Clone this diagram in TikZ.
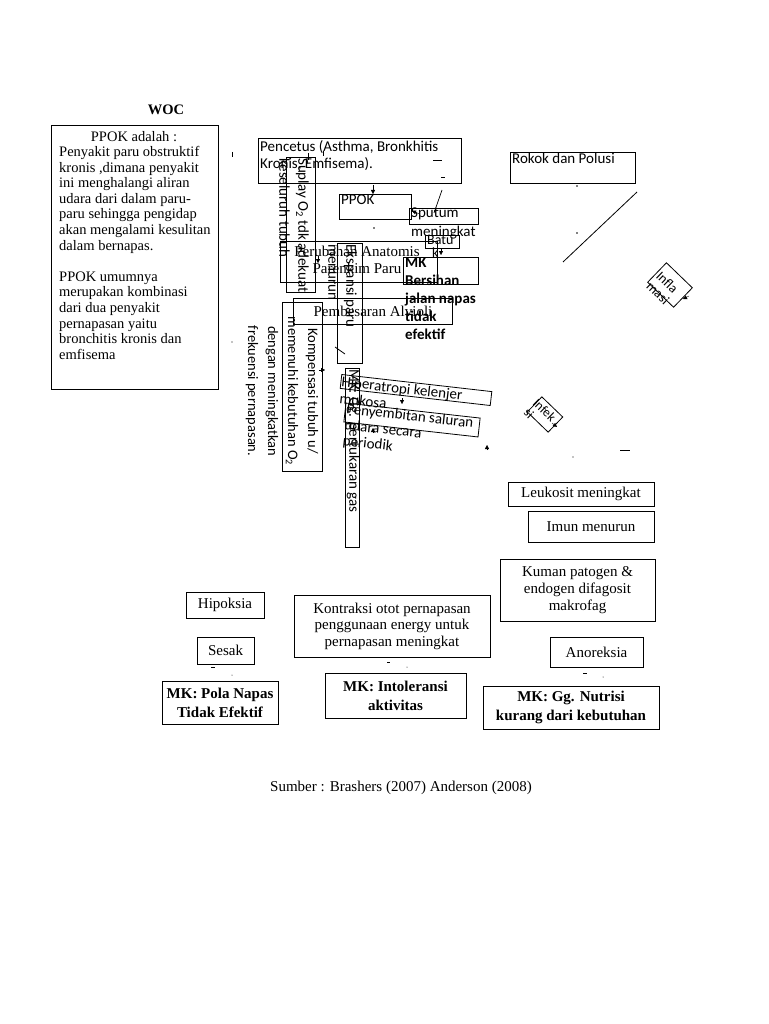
\documentclass[tikz,border=0pt]{standalone}
\usepackage{fontspec}
\setmainfont{Liberation Serif}
\newfontfamily\calib{Carlito}
\usetikzlibrary{arrows.meta}
\begin{document}
\begin{tikzpicture}[x=1pt,y=-1pt,
  bx/.style={draw,line width=0.8pt,inner sep=0pt},
  sr/.style={inner sep=0pt,font=\fontsize{14.5}{15.6}\selectfont},
  sr15/.style={inner sep=0pt,font=\fontsize{15}{16.5}\selectfont},
  srb/.style={inner sep=0pt,align=center,font=\bfseries\fontsize{15}{19}\selectfont},
  sn/.style={inner sep=0pt,font=\calib\fontsize{15}{17}\selectfont},
  snb/.style={inner sep=0pt,font=\calib\bfseries\fontsize{15}{18}\selectfont},
  arr/.style={-{Triangle[length=4pt,width=4pt]},line width=0.4pt},
  tick/.style={line width=0.8pt},
]
\useasboundingbox (0,0) rectangle (768,1024);
\fill[white] (0,0) rectangle (768,1024);

% title and definition
\node[inner sep=0pt,font=\bfseries\fontsize{14.5}{15}\selectfont] (woc) at (166,110) {WOC};
\node[bx,minimum width=167,minimum height=264,anchor=north west] (def) at (51,125) {};
\node[sr] (defh) at (134,137) {PPOK adalah :};
\node[sr,anchor=north west,align=left] (deft) at (59,146) {Penyakit paru obstruktif\\kronis ,dimana penyakit\\ini menghalangi aliran\\udara dari dalam paru-\\paru sehingga pengidap\\akan mengalami kesulitan\\dalam bernapas.\\[15.6pt]PPOK umumnya\\merupakan kombinasi\\dari dua penyakit\\pernapasan yaitu\\bronchitis kronis dan\\emfisema};

% Pencetus
\node[bx,minimum width=203,minimum height=45,anchor=north west] (pencetus) at (258,138) {};
\node[sn,anchor=north west,align=left] (pencetust) at (260,140) {Pencetus (Asthma, Bronkhitis\\Kronis, Emfisema).};
\coordinate (m1a) at (433,160); \coordinate (m1b) at (442,160);
\draw[tick] (m1a) -- (m1b);
\coordinate (m2a) at (441,177); \coordinate (m2b) at (445,177);
\draw[tick] (m2a) -- (m2b);
\coordinate (m3a) at (308,153); \coordinate (m3b) at (308,160);
\draw[tick] (m3a) -- (m3b);
\coordinate (m4a) at (323,151); \coordinate (m4b) at (323,156);
\draw[tick] (m4a) -- (m4b);

% PPOK
\node[bx,minimum width=72,minimum height=25,anchor=north west] (ppok) at (339,194) {};
\node[sn,anchor=north west] (ppokt) at (341,195) {PPOK};
\coordinate (a1s) at (373,185);
\draw[arr] (a1s) -- (ppok.north -| a1s);
\fill (374,228) circle (0.9);

% Sputum, Batuk, MK bersihan
\node[bx,minimum width=69,minimum height=16,anchor=north west] (sputum) at (409,208) {};
\node[sn,anchor=north west,align=left,font=\calib\fontsize{15}{19}\selectfont] (sputumt) at (411,208) {Sputum\\meningkat};
\coordinate (sp1) at (442,190); \coordinate (sp2) at (434,213);
\draw[line width=0.7pt] (sp1) -- (sp2);
\coordinate (a2s) at (420,214); \coordinate (a2e) at (412,211);
\draw[arr] (a2s) -- (a2e);
\node[bx,minimum width=34,minimum height=13,anchor=north west] (batuk) at (425,235) {};
\node[sn,anchor=north west,align=left,font=\calib\fontsize{14}{13}\selectfont] (batukt) at (427,235) {Batu\\\hspace*{5pt}k};
\coordinate (a3s) at (441,249); \coordinate (a3e) at (441,255);
\draw[arr] (a3s) -- (a3e);

% Perubahan anatomis
\node[bx,minimum width=157,minimum height=41,anchor=north west] (perub) at (280,241) {};
\node[sr15,align=center] (perubt) at (357,260) {Perubahan Anatomis\\Parenkim Paru};

\node[bx,minimum width=75,minimum height=27,anchor=north west] (mkb) at (403,257) {};
\node[snb,anchor=north west,align=left] (mkbt) at (405,258) {MK\\Bersihan\\jalan napas\\tidak\\efektif};

% Suplay O2 box
\node[bx,minimum width=29,minimum height=135,anchor=north west] (suplay) at (286,157) {};
\node[sn,rotate=-90,anchor=north west,align=left,font=\calib\fontsize{15}{19}\selectfont] (suplayt) at (309,158) {Suplay O\textsubscript{2} tdk adekuat\\keseluruh tubuh};
\coordinate (a4s) at (318,256); \coordinate (a4e) at (318,263);
\draw[arr] (a4s) -- (a4e);

% Ekspansi paru
\node[bx,minimum width=25,minimum height=120,anchor=north west] (eksp) at (337,243) {};
\node[sn,rotate=-90,anchor=north west,align=left,font=\calib\fontsize{15}{18}\selectfont] (ekspt) at (357,244) {Ekspansi paru\\menurun};
\coordinate (s1a) at (335,347); \coordinate (s1b) at (345,354);
\draw[tick] (s1a) -- (s1b);

% Pembesaran alvioli
\node[bx,minimum width=159,minimum height=26,anchor=north west] (pemb) at (293,298) {};
\node[sr15] (pembt) at (373,311) {Pembesaran Alvioli};

% Kompensasi
\node[bx,minimum width=40,minimum height=169,anchor=north west] (komp) at (282,302) {};
\node[sn,rotate=-90,align=center,font=\calib\fontsize{14.5}{20}\selectfont] (kompt) at (282,391) {Kompensasi tubuh u/\\memenuhi kebutuhan O\textsubscript{2}\\dengan meningkatkan\\frekuensi pernapasan.};
\coordinate (a5s) at (319,370); \coordinate (a5e) at (325,370);
\draw[arr] (a5s) -- (a5e);

% MK pertukaran gas
\node[bx,minimum width=14,minimum height=179,anchor=north west] (mkg) at (345,368) {};
\node[sn,rotate=-90,anchor=north west] (mkgt) at (360,369) {MK: Gg. pertukaran gas};

% Hiperatropi
\node[bx,rotate=-6.5,minimum width=151,minimum height=14] (hiper) at (416,390) {};
\node[sn,rotate=-6.5,anchor=north west,align=left,font=\calib\fontsize{15}{17}\selectfont] (hipert) at (342,376) {Hiperatropi kelenjer\\mukosa};
\coordinate (a6s) at (402,398); \coordinate (a6e) at (402,404);
\draw[arr] (a6s) -- (a6e);

% Penyembitan
\node[bx,rotate=-6.4,minimum width=135,minimum height=19] (peny) at (412,420) {};
\node[sn,rotate=-6.4,anchor=north west,align=left,font=\calib\fontsize{15}{16}\selectfont] (penyt) at (347,403) {Penyembitan saluran\\udara secara\\periodik};
\coordinate (a7s) at (373,433); \coordinate (a7e) at (373,428);
\draw[arr] (a7s) -- (a7e);
\coordinate (a8s) at (487,450); \coordinate (a8e) at (487,445);
\draw[arr] (a8s) -- (a8e);

% Rokok dan polusi
\node[bx,minimum width=125,minimum height=31,anchor=north west] (rokok) at (510,152) {};
\node[sn,anchor=north west] (rokokt) at (512,153) {Rokok dan Polusi};
\fill (577,186) circle (0.9);
\fill (577,233) circle (0.9);
\coordinate (d1) at (563,262); \coordinate (d2) at (637,192);
\draw[line width=0.8pt] (d1) -- (d2);

% Inflamasi
\node[bx,rotate=-44,minimum width=36,minimum height=27] (infla) at (670,285) {};
\node[sn,rotate=-44,align=left,font=\calib\fontsize{13.5}{14}\selectfont] (inflat) at (663,288) {Infla\\masi};
\coordinate (a9s) at (689,296); \coordinate (a9e) at (683,299);
\draw[arr] (a9s) -- (a9e);

% Infeksi
\node[bx,rotate=-44,minimum width=29,minimum height=21] (infeksi) at (545,414.5) {};
\node[sn,rotate=-44,align=left,font=\calib\fontsize{13}{13}\selectfont] (infeksit) at (540,415) {Infek\\si};
\coordinate (a10s) at (552,423); \coordinate (a10e) at (557,427);
\draw[arr] (a10s) -- (a10e);
\coordinate (m5a) at (620,450); \coordinate (m5b) at (630,450);
\draw[tick] (m5a) -- (m5b);
\fill (573,457) circle (0.6);

% Right column
\node[bx,minimum width=146,minimum height=24,sr15] (leuko) at (581,494) {Leukosit meningkat};
\node[bx,minimum width=126,minimum height=31,sr15] (imun) at (591,526.5) {Imun menurun};
\node[bx,minimum width=155,minimum height=62,align=center,sr15,font=\fontsize{15}{17}\selectfont] (kuman) at (577.5,590) {Kuman patogen \&\\endogen difagosit\\makrofag};
\node[bx,minimum width=93,minimum height=30,sr15] (anor) at (596.5,652) {Anoreksia};
\node[bx,minimum width=176,minimum height=43,srb] (mkn) at (571,707.5) {MK: Gg. Nutrisi\\kurang dari kebutuhan};

% Middle column
\node[bx,minimum width=196,minimum height=62,align=center,sr15] (kontr) at (392,626) {Kontraksi otot pernapasan\\penggunaan energy untuk\\pernapasan meningkat};
\node[bx,minimum width=141,minimum height=45,srb] (mki) at (395.5,695.5) {MK: Intoleransi\\aktivitas};

% Left column
\node[bx,minimum width=78,minimum height=26,sr15] (hipo) at (225,605) {Hipoksia};
\node[bx,minimum width=57,minimum height=27,sr15] (sesak) at (225.5,650.5) {Sesak};
\node[bx,minimum width=116,minimum height=43,srb] (mkp) at (220,702.5) {MK: Pola Napas\\Tidak Efektif};

% small marks
\coordinate (b1a) at (211,667); \coordinate (b1b) at (215,667);
\draw[tick] (b1a) -- (b1b);
\fill (232,675) circle (0.5);
\coordinate (b2a) at (387,662); \coordinate (b2b) at (390,662);
\draw[tick] (b2a) -- (b2b);
\fill (407,667) circle (0.5);
\coordinate (b3a) at (583,673); \coordinate (b3b) at (587,673);
\draw[tick] (b3a) -- (b3b);
\fill (603,677) circle (0.5);
\coordinate (t1a) at (232,152); \coordinate (t1b) at (232,157);
\draw[tick] (t1a) -- (t1b);
\fill (232,342) circle (0.6);

% source
\node[sr15] (src) at (401,788) {Sumber : Brashers (2007) Anderson (2008)};
\end{tikzpicture}
\end{document}
